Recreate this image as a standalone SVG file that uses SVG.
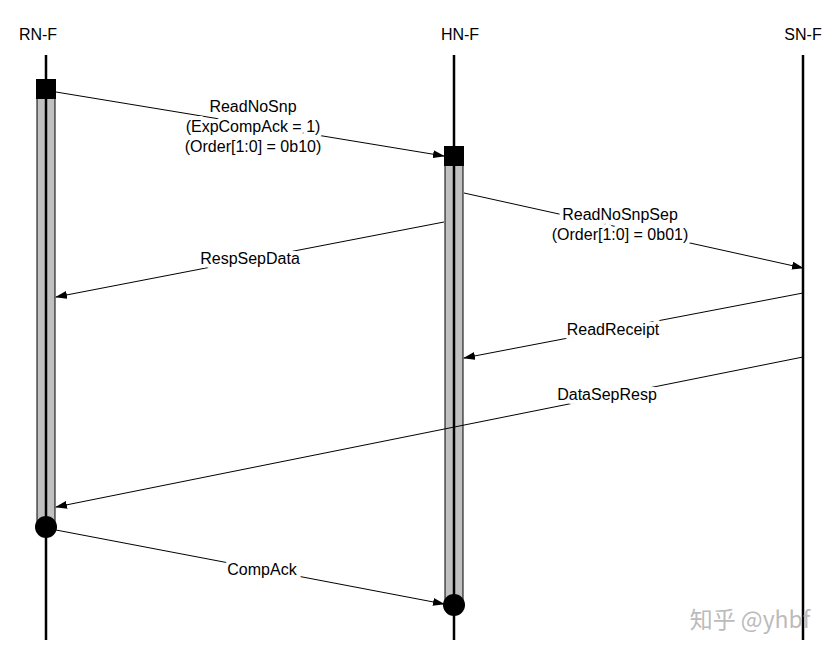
<svg xmlns="http://www.w3.org/2000/svg" width="840" height="656" viewBox="0 0 840 656">
<style>
text{font-family:"Liberation Sans",Arial,sans-serif;font-size:16px;fill:#000;text-anchor:middle}
.lab{paint-order:stroke;stroke:#fff;stroke-width:8px;stroke-linejoin:round}
.life{stroke:#000;stroke-width:2.5}
.msg{stroke:#000;stroke-width:1;fill:none;marker-end:url(#ah)}
.bar{fill:#c0c0c0;stroke:#000;stroke-width:1}
</style>
<defs><marker id="ah" markerWidth="12" markerHeight="8" refX="11" refY="4" orient="auto" markerUnits="userSpaceOnUse"><path d="M0,0 L12,4 L0,8 Z" fill="#000"/></marker></defs>
<rect width="840" height="656" fill="#fff"/>
<g id="rnf"><text x="38" y="40">RN-F</text><line class="life" x1="46" y1="55" x2="46" y2="640"/>
<rect class="bar" x="37" y="98" width="18" height="424"/><line class="life" x1="46" y1="98" x2="46" y2="522"/>
<rect x="36" y="79" width="20" height="20" fill="#000"/><circle cx="46" cy="527" r="11" fill="#000"/></g>
<g id="hnf"><text x="460" y="40">HN-F</text><line class="life" x1="454" y1="55" x2="454" y2="640"/>
<rect class="bar" x="445" y="165" width="18" height="435"/><line class="life" x1="454" y1="165" x2="454" y2="600"/>
<rect x="444" y="146" width="20" height="20" fill="#000"/><circle cx="454" cy="605" r="11" fill="#000"/></g>
<g id="snf"><text x="803" y="40">SN-F</text><line class="life" x1="803" y1="55" x2="803" y2="640"/></g>
<g id="connectors">
<line class="msg" x1="56" y1="92" x2="444" y2="156"/>
<line class="msg" x1="464" y1="193" x2="803" y2="268"/>
<line class="msg" x1="444" y1="222" x2="56" y2="297"/>
<line class="msg" x1="803" y1="293" x2="464" y2="358"/>
<line class="msg" x1="803" y1="357" x2="56" y2="507"/>
<line class="msg" x1="56" y1="530" x2="444" y2="604"/>
</g>
<g id="labels">
<text class="lab" x="253" y="112">ReadNoSnp</text>
<text class="lab" x="253" y="132">(ExpCompAck = 1)</text>
<text class="lab" x="253" y="152">(Order[1:0] = 0b10)</text>
<text class="lab" x="620" y="220">ReadNoSnpSep</text>
<text class="lab" x="620" y="240">(Order[1:0] = 0b01)</text>
<text class="lab" x="250" y="264">RespSepData</text>
<text class="lab" x="613" y="335">ReadReceipt</text>
<text class="lab" x="607" y="400">DataSepResp</text>
<text class="lab" x="262" y="575">CompAck</text>
</g>
<text x="750" y="628" style="font-family:'Noto Sans CJK SC',sans-serif;font-size:23px;fill:#bbb">知乎 @yhbf</text>
</svg>
